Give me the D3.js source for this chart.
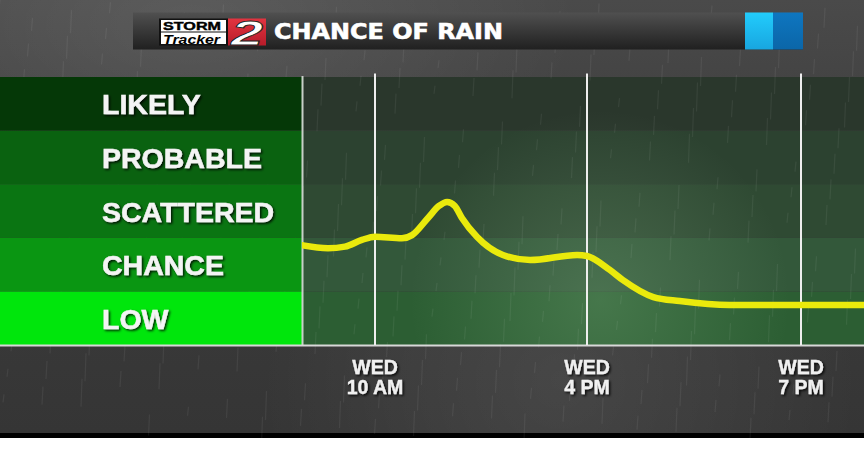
<!DOCTYPE html>
<html>
<head>
<meta charset="utf-8">
<script src="https://cdn.jsdelivr.net/npm/d3@7"></script>
<style>
  html, body { margin: 0; padding: 0; background: #ffffff; }
  svg { display: block; }
</style>
</head>
<body>
<div id="chart"></div>
<script>
// ---------- DATA ----------
const title = "CHANCE OF RAIN";
const categories = ["LOW", "CHANCE", "SCATTERED", "PROBABLE", "LIKELY"];
const categoryColors = ["#00e60c", "#0a9612", "#0a7512", "#0a6210", "#053807"];
const plotRowColors = ["#2c5e33", "#33583a", "#2f4a33", "#2c4230", "#2a372c"];
const tickHours = [10, 16, 19];
const tickDay = ["WED", "WED", "WED"];
const tickTime = ["10 AM", "4 PM", "7 PM"];
// rain chance (percent, 0-100 spans the five categories) by hour of day
const hours  = [7.9, 8.67, 9.15, 9.63, 10.0, 10.76, 11.05, 11.5, 11.81, 12.04, 12.26, 12.46, 12.89, 13.62, 14.39, 15.72, 16.0, 16.32, 16.5, 16.93, 17.3, 18.0, 19.0, 19.9];
const chance = [37.3, 36.1, 36.7, 39.2, 40.4, 39.8, 41.0, 47.4, 51.9, 53.4, 51.9, 47.4, 40.3, 33.6, 31.7, 33.6, 33.2, 28.0, 24.3, 17.9, 16.4, 14.9, 14.9, 14.9];

// ---------- LAYOUT ----------
const W = 864, H = 454;
const plot = { left: 302, right: 864, top: 77, bottom: 345 };

const svg = d3.select("#chart").append("svg")
  .attr("width", W).attr("height", H)
  .style("font-family", "'Liberation Sans', Arial, sans-serif");

const defs = svg.append("defs");

const bgGrad = defs.append("linearGradient").attr("id", "bg").attr("x1", 0).attr("y1", 0).attr("x2", 0).attr("y2", 1);
bgGrad.append("stop").attr("offset", "0%").attr("stop-color", "#4a4a4a");
bgGrad.append("stop").attr("offset", "40%").attr("stop-color", "#3d3d3d");
bgGrad.append("stop").attr("offset", "100%").attr("stop-color", "#353535");

const bgGlow = defs.append("radialGradient").attr("id", "bgGlow")
  .attr("cx", 0.22).attr("cy", 0.05).attr("r", 0.45);
bgGlow.append("stop").attr("offset", "0%").attr("stop-color", "#ffffff").attr("stop-opacity", 0.10);
bgGlow.append("stop").attr("offset", "100%").attr("stop-color", "#ffffff").attr("stop-opacity", 0);

const bottomGlow = defs.append("radialGradient").attr("id", "bottomGlow")
  .attr("gradientUnits", "userSpaceOnUse").attr("cx", 560).attr("cy", 380).attr("r", 300);
bottomGlow.append("stop").attr("offset", "0%").attr("stop-color", "#ffffff").attr("stop-opacity", 0.08);
bottomGlow.append("stop").attr("offset", "100%").attr("stop-color", "#ffffff").attr("stop-opacity", 0);

const plotGlow = defs.append("radialGradient").attr("id", "plotGlow")
  .attr("gradientUnits", "userSpaceOnUse").attr("cx", 600).attr("cy", 300).attr("r", 190);
plotGlow.append("stop").attr("offset", "0%").attr("stop-color", "#a0d0a0").attr("stop-opacity", 0.22);
plotGlow.append("stop").attr("offset", "100%").attr("stop-color", "#a0d0a0").attr("stop-opacity", 0);

const hdrGrad = defs.append("linearGradient").attr("id", "hdr").attr("x1", 0).attr("y1", 0).attr("x2", 0).attr("y2", 1);
hdrGrad.append("stop").attr("offset", "0%").attr("stop-color", "#505050");
hdrGrad.append("stop").attr("offset", "100%").attr("stop-color", "#202020");

const lightBlue = defs.append("linearGradient").attr("id", "lb").attr("x1", 0).attr("y1", 0).attr("x2", 0).attr("y2", 1);
lightBlue.append("stop").attr("offset", "0%").attr("stop-color", "#22ccfc");
lightBlue.append("stop").attr("offset", "100%").attr("stop-color", "#18a6e0");
const darkBlue = defs.append("linearGradient").attr("id", "db").attr("x1", 0).attr("y1", 0).attr("x2", 0).attr("y2", 1);
darkBlue.append("stop").attr("offset", "0%").attr("stop-color", "#0e76c0");
darkBlue.append("stop").attr("offset", "100%").attr("stop-color", "#0b66a8");

const redGrad = defs.append("linearGradient").attr("id", "red").attr("x1", 0).attr("y1", 0).attr("x2", 0).attr("y2", 1);
redGrad.append("stop").attr("offset", "0%").attr("stop-color", "#e23440");
redGrad.append("stop").attr("offset", "100%").attr("stop-color", "#b81c2a");

const shadow = defs.append("filter").attr("id", "shadow").attr("x", -0.2).attr("y", -0.3).attr("width", 1.4).attr("height", 1.6);
shadow.append("feDropShadow").attr("dx", 1.5).attr("dy", 1.5).attr("stdDeviation", 1)
  .attr("flood-color", "#000").attr("flood-opacity", 0.85);

defs.append("clipPath").attr("id", "plotClip").append("rect")
  .attr("x", plot.left).attr("y", plot.top)
  .attr("width", plot.right - plot.left).attr("height", plot.bottom - plot.top);

// ---------- BACKGROUND ----------
svg.append("rect").attr("x", 0).attr("y", 0).attr("width", W).attr("height", 433).attr("fill", "url(#bg)");
svg.append("rect").attr("x", 0).attr("y", 0).attr("width", W).attr("height", 433).attr("fill", "url(#bgGlow)");
svg.append("rect").attr("x", 0).attr("y", 346).attr("width", W).attr("height", 87).attr("fill", "url(#bottomGlow)");
svg.append("rect").attr("x", 0).attr("y", 433).attr("width", W).attr("height", 5).attr("fill", "#000");
svg.append("rect").attr("x", 0).attr("y", 438).attr("width", W).attr("height", H - 438).attr("fill", "#fff");

// ---------- SCALES ----------
const x = d3.scaleLinear().domain(tickHours).range([375, 587, 801]);
const y = d3.scaleLinear().domain([0, 100]).range([plot.bottom, plot.top]);
const band = d3.scaleBand().domain(categories).range([plot.bottom, plot.top]).paddingInner(0).paddingOuter(0);

// plot-area rows
svg.append("g").selectAll("rect").data(categories).join("rect")
  .attr("x", plot.left).attr("width", plot.right - plot.left)
  .attr("y", d => band(d)).attr("height", band.bandwidth())
  .attr("fill", (d, i) => plotRowColors[i]);
svg.append("rect").attr("x", plot.left).attr("y", plot.top)
  .attr("width", plot.right - plot.left).attr("height", plot.bottom - plot.top)
  .attr("fill", "url(#plotGlow)");

// subtle rain streaks (deterministic decoration)
const streaks = d3.range(320).map(i => ({
  sx: (i * 137.5) % W,
  sy: (i * 71.3) % 420,
  len: 8 + (i * 13) % 22
}));
svg.append("g").attr("opacity", 0.06).selectAll("line").data(streaks).join("line")
  .attr("x1", d => d.sx).attr("x2", d => d.sx - 1)
  .attr("y1", d => d.sy).attr("y2", d => d.sy + d.len)
  .attr("stroke", "#ffffff").attr("stroke-width", 1.2);

// left category panel
svg.append("g").selectAll("rect").data(categories).join("rect")
  .attr("x", 0).attr("width", plot.left)
  .attr("y", d => band(d)).attr("height", band.bandwidth())
  .attr("fill", (d, i) => categoryColors[i]);

svg.append("g").selectAll("text").data(categories).join("text")
  .attr("x", 102)
  .attr("y", d => band(d) + band.bandwidth() / 2 + 10.5)
  .attr("fill", "#f4f4f4")
  .attr("font-size", 28.5).attr("font-weight", "bold")
  .attr("stroke", "#f4f4f4").attr("stroke-width", 0.5)
  .attr("filter", "url(#shadow)")
  .text(d => d);

// frame lines
svg.append("line").attr("x1", plot.left + 0.5).attr("x2", plot.left + 0.5)
  .attr("y1", plot.top - 1).attr("y2", plot.bottom)
  .attr("stroke", "#c8cfc8").attr("stroke-width", 2);
svg.append("line").attr("x1", 0).attr("x2", W)
  .attr("y1", plot.bottom + 0.5).attr("y2", plot.bottom + 0.5)
  .attr("stroke", "#d8d8d8").attr("stroke-width", 2);

// ---------- X AXIS ----------
const axis = d3.axisBottom(x).tickValues(tickHours).tickSize(0).tickFormat(() => "");
const axisG = svg.append("g").attr("transform", `translate(0,${plot.bottom})`).call(axis);
axisG.select(".domain").remove();

svg.append("g").selectAll("line").data(tickHours).join("line")
  .attr("x1", d => x(d)).attr("x2", d => x(d))
  .attr("y1", plot.top - 3.5).attr("y2", plot.bottom)
  .attr("stroke", "#eeeeee").attr("stroke-width", 2);

const tl = svg.append("g").selectAll("text").data(tickHours).join("text")
  .attr("text-anchor", "middle")
  .attr("fill", "#f0f0f0").attr("font-size", 19.5).attr("font-weight", "bold")
  .attr("stroke", "#f0f0f0").attr("stroke-width", 0.3)
  .attr("filter", "url(#shadow)");
tl.append("tspan").attr("x", d => x(d)).attr("y", 374).text((d, i) => tickDay[i]);
tl.append("tspan").attr("x", d => x(d)).attr("y", 394).text((d, i) => tickTime[i]);

// ---------- LINE ----------
const pts = hours.map((h, i) => ({ h, v: chance[i] }));
const line = d3.line().x(d => x(d.h)).y(d => y(d.v)).curve(d3.curveMonotoneX);
svg.append("path").datum(pts)
  .attr("clip-path", "url(#plotClip)")
  .attr("d", line)
  .attr("fill", "none")
  .attr("stroke", "#eaea0c")
  .attr("stroke-width", 6.5)
  .attr("stroke-linecap", "round")
  .attr("stroke-linejoin", "round");

// ---------- HEADER ----------
svg.append("rect").attr("x", 133).attr("y", 12.5).attr("width", 670).attr("height", 37).attr("fill", "url(#hdr)");
svg.append("rect").attr("x", 745).attr("y", 12.5).attr("width", 28).attr("height", 37).attr("fill", "url(#lb)");
svg.append("rect").attr("x", 773).attr("y", 12.5).attr("width", 30).attr("height", 37).attr("fill", "url(#db)");

const logo = svg.append("g");
logo.append("rect").attr("x", 159).attr("y", 18.5).attr("width", 69).attr("height", 27).attr("fill", "#111");
logo.append("rect").attr("x", 161).attr("y", 20).attr("width", 65).attr("height", 11.5).attr("fill", "#ffffff");
logo.append("rect").attr("x", 161).attr("y", 32.5).attr("width", 65).attr("height", 11.5).attr("fill", "#ffffff");
logo.append("text").attr("x", 163).attr("y", 30.2)
  .attr("font-size", 11).attr("font-weight", "900").attr("fill", "#000")
  .attr("stroke", "#000").attr("stroke-width", 0.4)
  .attr("textLength", 58).attr("lengthAdjust", "spacingAndGlyphs")
  .text("STORM");
logo.append("text").attr("x", 163).attr("y", 43.6)
  .attr("font-size", 12.3).attr("font-weight", "bold").attr("font-style", "italic").attr("fill", "#000")
  .attr("textLength", 57).attr("lengthAdjust", "spacingAndGlyphs")
  .text("Tracker");
logo.append("rect").attr("x", 228).attr("y", 18.5).attr("width", 38).attr("height", 27).attr("fill", "url(#red)");
logo.append("text").attr("x", 247).attr("y", 44.5).attr("text-anchor", "middle")
  .attr("font-size", 35).attr("font-weight", "bold").attr("font-style", "italic")
  .attr("fill", "#ffffff").attr("stroke", "#222").attr("stroke-width", 0.8)
  .attr("textLength", 32).attr("lengthAdjust", "spacingAndGlyphs")
  .text("2");

svg.append("text").attr("x", 274).attr("y", 39.3)
  .attr("font-family", "'DejaVu Sans', sans-serif")
  .attr("font-size", 21).attr("font-weight", "bold").attr("fill", "#ffffff")
  .attr("stroke", "#ffffff").attr("stroke-width", 0.6)
  .attr("textLength", 229).attr("lengthAdjust", "spacingAndGlyphs")
  .text(title);
</script>
</body>
</html>
